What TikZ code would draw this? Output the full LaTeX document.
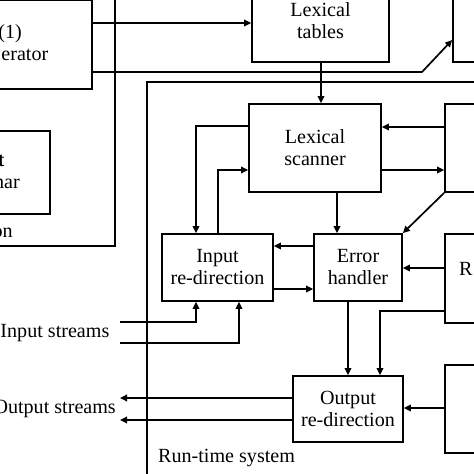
\documentclass[tikz,border=0pt]{standalone}
\usepackage{fontspec}
\setmainfont{Liberation Serif}
\usetikzlibrary{arrows.meta}
\tikzset{
  box/.style={draw, line width=1.7pt, inner sep=0pt, align=center, font=\fontsize{20.1}{22}\selectfont},
  conn/.style={line width=1.7pt, -{Triangle[length=7pt,width=6.5pt]}},
  plain/.style={line width=1.7pt},
  lbl/.style={inner sep=0pt, font=\fontsize{20.1}{22}\selectfont},
}
\begin{document}
\begin{tikzpicture}[x=1pt,y=-1pt]
\useasboundingbox (0,0) rectangle (474,474);
\clip (0,0) rectangle (474,474);
% boxes
\node[box, minimum width=175pt, minimum height=306pt] (outer) at (27.5,93) {};
\node[box, minimum width=162pt, minimum height=89pt] (gen) at (11,44.5) {};
\node[box, minimum width=110pt, minimum height=83pt] (gram) at (-5,172.5) {};
\node[box, minimum width=373pt, minimum height=438pt] (rts) at (333.5,301) {};
\node[box, minimum width=137pt, minimum height=82pt] (lt) at (320.5,21) {Lexical\\tables};
\node[box, minimum width=67pt, minimum height=82pt] (par) at (486.5,21) {};
\node[box, minimum width=132pt, minimum height=88pt] (lsc) at (315,148) {Lexical\\scanner};
\node[box, minimum width=75pt, minimum height=88pt] (rmid) at (482.5,148) {};
\node[box, minimum width=111pt, minimum height=67pt] (inp) at (217.5,267.5) {Input\\re-direction};
\node[box, minimum width=88pt, minimum height=67pt] (err) at (358,267.5) {Error\\handler};
\node[box, minimum width=75pt, minimum height=89pt] (rbox) at (482.5,278.5) {};
\node[box, minimum width=110pt, minimum height=66pt] (out) at (348,409) {Output\\re-direction};
\node[box, minimum width=75pt, minimum height=88pt] (rbot) at (482.5,409) {};
% text fragments of cut boxes
\node[lbl, anchor=base east] (g1) at (22,38) {(1)};
\node[lbl, anchor=base east] (g2) at (48.5,60) {erator};
\node[lbl, anchor=base east] (m1) at (4.5,166) {\bfseries t};
\node[lbl, anchor=base east] (m2) at (20,188) {mar};
\node[lbl, anchor=base east] (o1) at (13,237) {on};
\node[lbl, anchor=base west] (r1) at (459,275) {R};
% labels
\node[lbl, anchor=base west] (instr) at (0.3,337) {Input streams};
\node[lbl, anchor=base east] (outstr) at (116,413) {Output streams};
\node[lbl, anchor=base west] (rtsl) at (158,462) {Run-time system};
% free ends
\coordinate (is1) at (120,322);
\coordinate (is2) at (120,343);
\coordinate (os1) at (120,398);
\coordinate (os2) at (120,420);
\coordinate (bend1) at (422,72);
% connectors
\draw[conn] (gen.east |- 0,23) -- (lt.west |- 0,23);
\draw[conn] (gen.east |- 0,72) -- (bend1) -- (par.west |- 0,40);
\draw[conn] (lt.south -| 321,0) -- (lsc.north -| 321,0);
\draw[conn] (rmid.west |- 0,127) -- (lsc.east |- 0,127);
\draw[conn] (lsc.east |- 0,170) -- (rmid.west |- 0,170);
\draw[conn] (lsc.west |- 0,126) -| (inp.north -| 196,0);
\draw[conn] (inp.north -| 218,0) |- (lsc.west |- 0,170);
\draw[conn] (lsc.south -| 337,0) -- (err.north -| 337,0);
\draw[conn] (rmid.south west) -- (err.north east);
\draw[conn] (err.west |- 0,246) -- (inp.east |- 0,246);
\draw[conn] (inp.east |- 0,289) -- (err.west |- 0,289);
\draw[conn] (rbox.west |- 0,268) -- (err.east |- 0,268);
\draw[conn] (is1) -| (inp.south -| 196,0);
\draw[conn] (is2) -| (inp.south -| 239,0);
\draw[conn] (err.south -| 348,0) -- (out.north -| 348,0);
\draw[conn] (rbox.west |- 0,311) -| (out.north -| 380,0);
\draw[conn] (rbot.west |- 0,408) -- (out.east |- 0,408);
\draw[conn] (out.west |- 0,398) -- (os1);
\draw[conn] (out.west |- 0,420) -- (os2);
\end{tikzpicture}
\end{document}
